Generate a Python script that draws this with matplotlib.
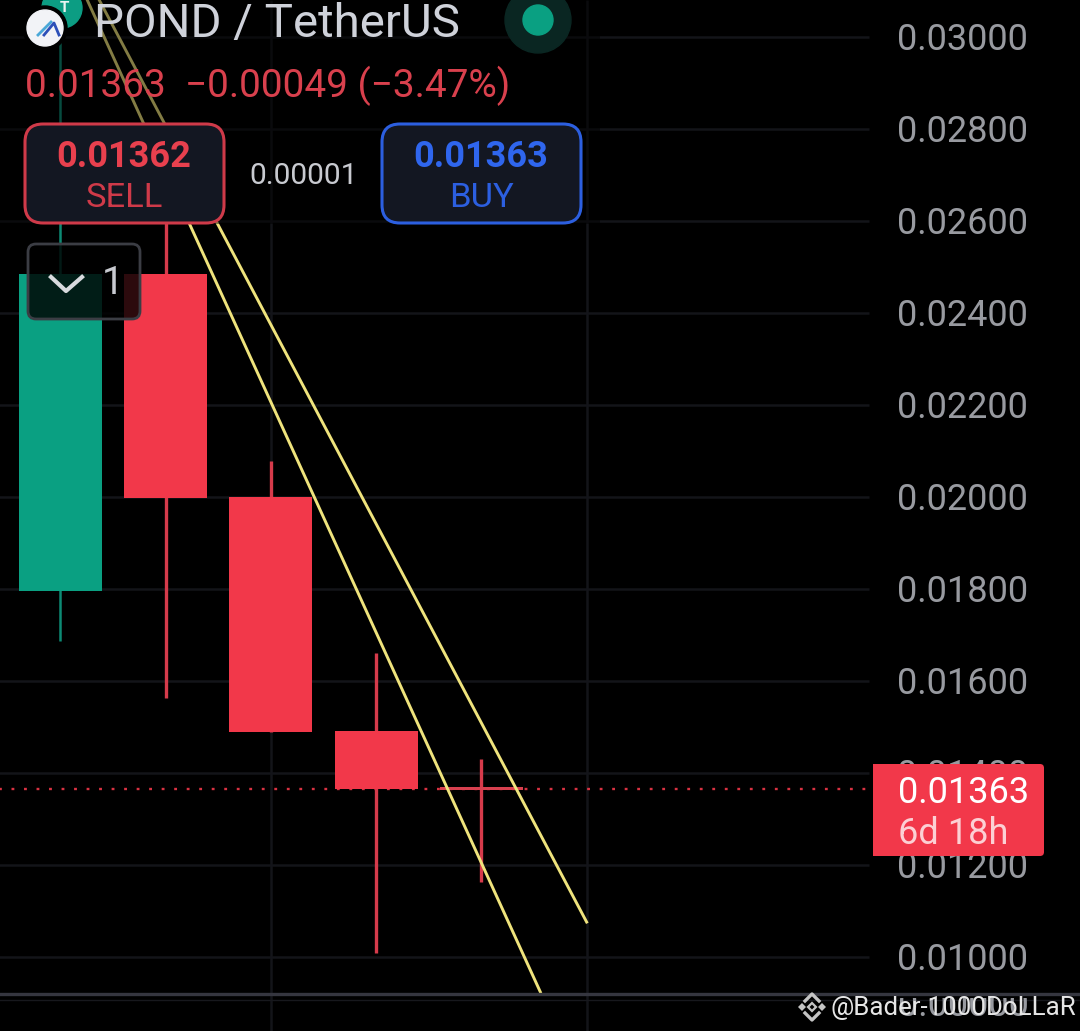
import matplotlib
matplotlib.use("Agg")
import matplotlib.pyplot as plt
from matplotlib.patches import Circle, FancyBboxPatch, Rectangle, Polygon

plt.rcParams["font.family"] = ["Roboto", "DejaVu Sans"]

# -----------------------------
# Chart data
# -----------------------------
candle_x = [0, 1, 2, 3, 4]
opens = [0.01796, 0.02485, 0.02000, 0.01491, 0.01369]
closes = [0.02485, 0.01998, 0.01489, 0.01365, 0.01363]
highs = [0.03090, 0.02630, 0.02078, 0.01661, 0.01430]
lows = [0.01687, 0.01563, 0.01489, 0.01009, 0.01163]

price_ticks = [0.030, 0.028, 0.026, 0.024, 0.022, 0.020, 0.018, 0.016, 0.014, 0.012, 0.010]
tick_labels = ["0.03000", "0.02800", "0.02600", "0.02400", "0.02200", "0.02000",
               "0.01800", "0.01600", "0.01400", "0.01200", "0.01000"]
time_grid = [2, 5]
last_price = 0.01365

trend_a_x = [0.2565, 4.56]
trend_a_y = [0.03080, 0.00924]
trend_b_x = [0.3705, 5.0]
trend_b_y = [0.03080, 0.01076]

GREEN = "#0aa082"
RED = "#f2384a"
BG = "#000000"
GRID = "#131419"
AXIS_TXT = "#989aa0"

fig = plt.figure(figsize=(10.8, 10.31), dpi=100, facecolor=BG)

# -----------------------------
# Price chart
# -----------------------------
ax = fig.add_axes([0, 0, 1, 1], facecolor=BG)
ax.set_xlim(-0.573, 9.687)
ax.set_ylim(0.008391, 0.030804)
ax.axis("off")

ax.hlines(price_ticks, -0.58, 7.687, color=GRID, lw=1.8, zorder=1)
ax.vlines(time_grid, 0.008391, 0.030804, color=GRID, lw=1.8, zorder=1)
ax.hlines(last_price, -0.58, 7.7, color=RED, lw=1.7, linestyles=(0, (1.2, 4.1)), zorder=2, alpha=0.9)

for i in candle_x:
    up = closes[i] >= opens[i]
    ax.vlines(candle_x[i], lows[i], highs[i], color="#0d8a74" if up else "#d63b4b",
              lw=1.8 if up else 2.4, zorder=3)
    ax.bar(candle_x[i], abs(closes[i] - opens[i]), bottom=min(opens[i], closes[i]),
           width=0.79, color=GREEN if up else ("#d8404f" if i == 4 else RED), zorder=4)

ax.plot(trend_a_x, trend_a_y, color="#efe37c", lw=2.1, zorder=5)
ax.plot(trend_b_x, trend_b_y, color="#efe37c", lw=2.1, zorder=5)

for p, lab in zip(price_ticks, tick_labels):
    ax.text(7.95, p + 0.00002, lab, color=AXIS_TXT, fontsize=26, va="center_baseline", ha="left", zorder=6)

# -----------------------------
# Overlay in picture pixels
# -----------------------------
ui = fig.add_axes([0, 0, 1, 1], facecolor="none")
ui.set_xlim(0, 1080)
ui.set_ylim(1031, 0)
ui.axis("off")

# the header dims whatever is drawn behind it
ui.add_patch(Rectangle((0, 0), 600, 224, fc=BG, ec="none", alpha=0.45, zorder=1))

# bottom panel line and the clipped label under it
ui.plot([0, 1080], [994, 994], color="#35363f", lw=2.4, zorder=2)
ui.plot([0, 1080], [999.5, 999.5], color="#17181d", lw=1, zorder=2)
cut = ui.text(898, 1016, "0.00000", color=AXIS_TXT, fontsize=26, va="baseline", ha="left", zorder=2)
cut.set_clip_on(True)
cut.set_clip_path(Rectangle((880, 998), 160, 33, transform=ui.transData))

# header logos
ui.add_patch(Circle((538, 20), 33, color="#0a2622", zorder=3))
ui.add_patch(Circle((538, 20), 15, color="#0aa082", zorder=4))
ui.add_patch(Circle((62, 8), 20, color="#0c9d83", zorder=3))
ui.text(64, 8, "T", color="#e8f5f2", fontsize=11, weight="bold", ha="center", va="center", zorder=4)
ui.add_patch(Circle((45, 28), 22, color=BG, zorder=5))
ui.add_patch(Circle((45, 28), 18, color="#f2f3f7", zorder=6))
ui.plot([38, 51], [35, 22], color="#4aa8d8", lw=2, zorder=7)
ui.plot([44, 54, 59], [35, 23, 35], color="#2c4fb8", lw=2, zorder=7)

ui.text(94, 37, "POND / TetherUS", color="#cfd2da", fontsize=34.2, va="baseline", ha="left", zorder=8)
ui.text(25, 97, "0.01363  \u22120.00049 (\u22123.47%)", color="#d9404d", fontsize=27.9,
        va="baseline", ha="left", zorder=8)

# sell / buy buttons
for x0, edge, price, side in [(25, "#cf3a49", "0.01362", "SELL"), (382, "#2c5fe0", "0.01363", "BUY")]:
    ui.add_patch(FancyBboxPatch((x0 + 18, 124 + 18), 163, 63, boxstyle="round,pad=18",
                                fc="#131722", ec=edge, lw=2.2, zorder=9))
    ui.text(x0 + 99, 167, price, color="#e8404e" if side == "SELL" else "#2f66ee", fontsize=26,
            weight="bold", ha="center", va="baseline", zorder=10)
    ui.text(x0 + 99, 207, side, color=edge, fontsize=24.8, ha="center", va="baseline", zorder=10)
ui.text(249, 184, "0.00001", color="#c8cad0", fontsize=21.6, ha="left", va="baseline", zorder=8)

# collapse button
ui.add_patch(FancyBboxPatch((36, 252), 96, 59, boxstyle="round,pad=8", fc=(0, 0, 0, 0.82),
                            ec="#3b3d44", lw=2, zorder=9))
ui.plot([51, 66, 82], [277, 291, 277], color="#d8dade", lw=3, zorder=10)
ui.text(113, 294, "1", color="#c8cad0", fontsize=28, ha="center", va="baseline", zorder=10)

# last price tag
ui.add_patch(FancyBboxPatch((880, 768), 160, 84, boxstyle="round,pad=4", fc=RED, ec="none", zorder=11))
ui.add_patch(Rectangle((873, 764), 20, 92, fc=RED, ec="none", zorder=11))
ui.text(898, 803, "0.01363", color="#ffffff", fontsize=26, ha="left", va="baseline", zorder=12)
ui.text(898, 844, "6d 18h", color="#fcd0d4", fontsize=26, ha="left", va="baseline", zorder=12)

# watermark
for cx, cy in [(802, 1007), (822, 1007)]:
    ui.add_patch(Polygon([(cx, cy - 4), (cx + 4, cy), (cx, cy + 4), (cx - 4, cy)],
                         closed=True, fc="#c4c4c4", ec="none", zorder=13))
ui.add_patch(Polygon([(812, 1003), (816, 1007), (812, 1011), (808, 1007)],
                     closed=True, fc="none", ec="#c4c4c4", lw=1.6, zorder=13))
ui.plot([805, 812, 819], [1001, 994, 1001], color="#c4c4c4", lw=2.4, zorder=13)
ui.plot([805, 812, 819], [1013, 1020, 1013], color="#c4c4c4", lw=2.4, zorder=13)
ui.text(830, 1015, "@Bader-1000DoLLaR", color="#e6e6e6", fontsize=18.6, ha="left", va="baseline", zorder=13)

fig.savefig("out.png", dpi=100, facecolor=BG)
